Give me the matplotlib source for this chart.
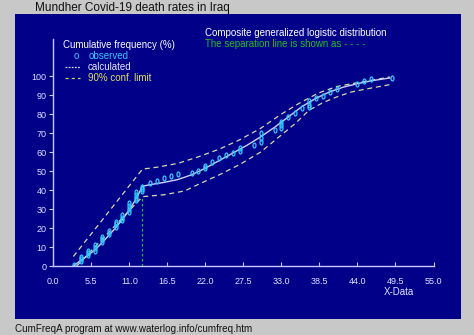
import matplotlib
matplotlib.use('Agg')
import matplotlib.pyplot as plt
import numpy as np
from matplotlib.patches import Rectangle

plt.rcParams['font.family'] = ['Liberation Sans', 'DejaVu Sans']

# observed points (x, cumulative frequency %)
obs_x = [3, 4, 4, 4, 5, 5, 5, 6, 6, 6, 7, 7, 7, 8, 8, 9, 9, 9, 10, 10, 10,
         11, 11, 11, 11, 12, 12, 12, 12, 12.9, 12.9, 12.9, 14, 15, 16, 17, 18,
         20, 21, 22, 22, 23, 24, 25, 26, 27, 27, 29, 30, 30, 30, 32, 33, 33, 33,
         34, 35, 36, 37, 37, 37, 38, 39, 40, 41, 44, 45, 46, 49]
obs_y = [0.5, 2.5, 3.5, 4.5, 6, 7, 8, 8, 9.5, 11, 12.5, 14, 15.5, 17, 18.5, 20.5, 22, 23, 24, 25.5, 27,
         28.5, 30, 31.5, 33, 34.5, 36, 37.5, 39, 39.5, 40.5, 41.5, 43.5, 44.5, 46.5, 47.4, 48.3,
         49.1, 50, 51.5, 52.6, 54.9, 56.7, 58.4, 59.3, 60.7, 62, 63.7, 65.4, 67.5, 70, 71.6, 72.5, 74.2, 76,
         78.2, 80.5, 83, 83.5, 85, 86.8, 88.3, 89.6, 91.7, 93.2, 95.6, 97.4, 98.4, 99.1]

# calculated composite distribution (two parts, break at the separation line)
calc_x1 = [2.9, 4, 5, 6, 7, 8, 9, 10, 11, 12, 12.9]
calc_y1 = [0, 3, 5.5, 8.5, 12, 16, 20, 24.5, 29.5, 35.5, 42]
calc_x2 = [12.9, 14, 16, 18, 20, 22, 24, 26, 28, 30, 32, 34, 36, 38, 40, 42, 44, 46, 48.7]
calc_y2 = [42, 42.8, 44, 45.5, 48, 51.5, 55.5, 59.5, 63.5, 68, 73, 78.5, 84, 88.3, 91.7, 94.2, 96, 97.5, 99]

# 90% confidence limits
up_x = [2.9, 12.9, 15, 18, 21, 24, 27, 30, 33, 35.5, 38.3, 41, 44, 48.7]
up_y = [5, 51, 52, 54, 57.5, 61.5, 66.5, 72.5, 80, 85.5, 91, 94.5, 96.5, 99.5]
lo_x = [3.4, 12.9, 16, 19, 21, 24, 27, 30, 33, 35, 37, 39, 41, 43, 45, 48.7]
lo_y = [0, 36.5, 37.5, 39.5, 43, 48, 53.5, 60, 69, 75, 82, 86, 89, 91.5, 93, 95.5]

sep_x = 12.9
sep_top = 36.5

x_ticks = [0.0, 5.5, 11.0, 16.5, 22.0, 27.5, 33.0, 38.5, 44.0, 49.5, 55.0]
y_ticks = [0, 10, 20, 30, 40, 50, 60, 70, 80, 90, 100]

W, H = 474, 335
BLUE = '#000088'
AXC = '#c8c8ff'


def fx(x):
    return x / W


def fy(y):
    return 1 - y / H


# small upright ellipse, like the "o" the program draws
t = np.linspace(0, 2 * np.pi, 25)
ellipse = np.column_stack([0.6 * np.cos(t), np.sin(t)])

fig = plt.figure(figsize=(W / 100, H / 100), dpi=100, facecolor='#c8c8c8')
fig.patches.append(Rectangle((fx(15), fy(319)), (461 - 15) / W, (319 - 14) / H,
                             transform=fig.transFigure, facecolor=BLUE,
                             edgecolor='none', zorder=-5))

ax = fig.add_axes([fx(53.3), fy(266), (433.5 - 53.3) / W, (266 - 39) / H])
ax.set_zorder(2)
ax.set_facecolor('none')
ax.set_xlim(0, 55)
ax.set_ylim(0, 119.5)
for s in ['top', 'right']:
    ax.spines[s].set_visible(False)
for s in ['left', 'bottom']:
    ax.spines[s].set_color(AXC)
    ax.spines[s].set_linewidth(1)
ax.set_xticks(x_ticks)
ax.set_xticklabels([f'{v:.1f}' for v in x_ticks])
ax.set_yticks(y_ticks)
ax.tick_params(axis='x', direction='in', length=3, color=AXC, labelcolor='#e0e0ff',
               labelsize=6.5, pad=8)
ax.tick_params(axis='y', direction='out', length=3, color=AXC, labelcolor='#e0e0ff',
               labelsize=6.5, pad=2)

ax.plot([sep_x, sep_x], [0, sep_top], color='#20c020', lw=0.9, ls=(0, (2, 2)))
ax.plot(lo_x, lo_y, color='#d8d8a8', lw=0.9, ls=(0, (4, 3)))
ax.plot(up_x, up_y, color='#d8d8a8', lw=0.9, ls=(0, (4, 3)))
ax.plot(calc_x1, calc_y1, color='#d0d0ff', lw=1)
ax.plot(calc_x2, calc_y2, color='#d0d0ff', lw=1)
ax.plot(obs_x, obs_y, ls='none', marker=ellipse, ms=3.6, mfc='none', mec='#30c8ff', mew=0.9)

# texts
fig.text(fx(35), fy(8), 'Mundher Covid-19 death rates in Iraq', fontsize=8.5,
         color='#101010', va='center')
fig.text(fx(15), fy(329), 'CumFreqA program at www.waterlog.info/cumfreq.htm',
         fontsize=7.1, color='#101010', va='center')
fig.text(fx(63), fy(45), 'Cumulative frequency (%)', fontsize=7, color='white', va='center')
fig.text(fx(74), fy(56), 'o', fontsize=7, color='#30c8ff', va='center')
fig.text(fx(89), fy(56), 'observed', fontsize=7, color='#30c8ff', va='center')
fig.lines.append(plt.Line2D([fx(65), fx(80)], [fy(67), fy(67)], transform=fig.transFigure,
                            color='#d0d0ff', lw=0.9, ls=(0, (1.5, 1))))
fig.text(fx(88), fy(67), 'calculated', fontsize=7, color='#e8e8ff', va='center')
fig.lines.append(plt.Line2D([fx(65), fx(80)], [fy(78), fy(78)], transform=fig.transFigure,
                            color='#d0d060', lw=0.9, ls=(0, (2.5, 2.5))))
fig.text(fx(88), fy(78), '90% conf. limit', fontsize=7, color='#e0e060', va='center')
fig.text(fx(205), fy(33), 'Composite generalized logistic distribution', fontsize=7,
         color='white', va='center')
fig.text(fx(205), fy(44), 'The separation line is shown as - - - -', fontsize=7,
         color='#20c020', va='center')
fig.text(fx(399), fy(292), 'X-Data', fontsize=7, color='#e0e0ff', va='center', ha='center')

fig.savefig('out.png', dpi=100, facecolor=fig.get_facecolor())
